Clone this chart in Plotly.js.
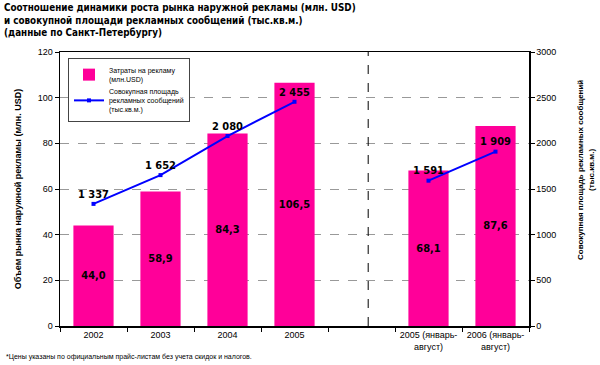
<!DOCTYPE html>
<html><head><meta charset="utf-8">
<script src="https://cdn.plot.ly/plotly-3.0.1.min.js"></script>
<style>html,body{margin:0;padding:0;background:#fff}#chart{width:600px;height:365px}</style>
</head><body><div id="chart"></div>
<script>
const categories = ['2002','2003','2004','2005','','2005 (январь-<br>август)','2006 (январь-<br>август)'];
const spend = [44.0, 58.9, 84.3, 106.5, null, 68.1, 87.6];
const area = [1337, 1652, 2080, 2455, null, 1591, 1909];
const leftTicks = [0,20,40,60,80,100,120];
const rightTicks = [0,500,1000,1500,2000,2500,3000];

const NARROW = '"DejaVu Sans Condensed", "DejaVu Sans", sans-serif';
const ARIAL = 'Arial, "Liberation Sans", sans-serif';

const xIdx = categories.map((c,i)=>i);
const tickIdx = xIdx.filter(i=>categories[i] !== '');
const fmtDec = v => v==null ? '' : v.toFixed(1).replace('.', ',');
const fmtThou = v => v==null ? '' : String(v).replace(/\B(?=(\d{3})+(?!\d))/g, ' ');

const traces = [
 {type:'bar', x:xIdx, y:spend, name:'Затраты на рекламу<br>(млн.USD)',
  marker:{color:'#FF0099'}, text:spend.map(fmtDec), textposition:'inside',
  insidetextanchor:'middle', constraintext:'none', textangle:0,
  textfont:{family:NARROW, size:11, color:'#000', weight:'bold', stretch:'condensed'}, hoverinfo:'none'},
 {type:'scatter', mode:'lines+markers+text', x:xIdx, y:area, yaxis:'y2',
  name:'Совокупная площадь<br>рекламных сообщений<br>(тыс.кв.м.)',
  line:{color:'#0000FF', width:2}, marker:{color:'#0000FF', size:4, symbol:'square'},
  text:area.map(fmtThou), textposition:'top center', connectgaps:false,
  textfont:{family:NARROW, size:11, color:'#000', weight:'bold', stretch:'condensed'}, cliponaxis:false}
];

const layout = {
 width:600, height:365, margin:{l:60, r:71, t:52, b:39},
 paper_bgcolor:'#fff', plot_bgcolor:'#fff', bargap:0.4, showlegend:true,
 font:{family:ARIAL, size:9, color:'#000'},
 xaxis:{range:[-0.5, categories.length-0.5], tickvals:tickIdx, ticktext:tickIdx.map(i=>categories[i]),
   ticks:'', showline:true, linecolor:'#000', linewidth:1.5, mirror:true, showgrid:false, zeroline:false,
   tickfont:{size:9, color:'#000'},
   minor:{tick0:-0.5, dtick:1, ticks:'outside', ticklen:4, tickcolor:'#000', showgrid:false}},
 yaxis:{range:[0,120], tickvals:leftTicks, ticks:'outside', ticklen:4, tickcolor:'#000',
   showline:true, linecolor:'#000', linewidth:1.5, showgrid:true, gridcolor:'#999', griddash:'dash',
   zeroline:false, tickfont:{size:9, color:'#000'}},
 yaxis2:{range:[0,3000], tickvals:rightTicks, overlaying:'y', side:'right', ticks:'outside', ticklen:4,
   tickcolor:'#000', showline:true, linecolor:'#000', linewidth:1.5, showgrid:false, zeroline:false,
   tickfont:{size:9, color:'#000'}},
 legend:{x:0.017, y:0.978, xanchor:'left', yanchor:'top', bgcolor:'#fff', bordercolor:'#444', borderwidth:1,
   font:{size:7, color:'#000'}, tracegroupgap:0, itemwidth:30},
 shapes:[{type:'line', xref:'x', yref:'paper', x0:4.1, x1:4.1, y0:0, y1:1,
   line:{color:'#000', width:1, dash:'dash'}}],
 annotations:[
  {text:'<b>Соотношение динамики роста рынка наружной рекламы (млн. USD)<br>и совокупной площади рекламных сообщений (тыс.кв.м.)<br>(данные по Санкт-Петербургу)</b>',
   xref:'paper', yref:'paper', x:-0.123, y:1.19, xanchor:'left', yanchor:'top', align:'left', showarrow:false,
   font:{family:NARROW, size:9.8, color:'#000', stretch:'condensed'}},
  {text:'<b>Объем рынка наружной рекламы (млн. USD)</b>', textangle:-90, xref:'paper', yref:'paper',
   x:-0.089, y:0.5, xanchor:'center', yanchor:'middle', showarrow:false, font:{size:9, color:'#000'}},
  {text:'<b>Совокупная площадь рекламных сообщений<br>(тыс.кв.м.)</b>', textangle:-90, xref:'paper', yref:'paper',
   x:1.122, y:0.57, xanchor:'center', yanchor:'middle', showarrow:false, font:{size:8, color:'#000'}},
  {text:'*Цены указаны по официальным прайс-листам без учета скидок и налогов.', xref:'paper', yref:'paper',
   x:-0.12, y:-0.113, xanchor:'left', yanchor:'middle', showarrow:false, font:{size:7, color:'#000'}}
 ]
};
Plotly.newPlot('chart', traces, layout, {displayModeBar:false, staticPlot:true});
</script></body></html>
